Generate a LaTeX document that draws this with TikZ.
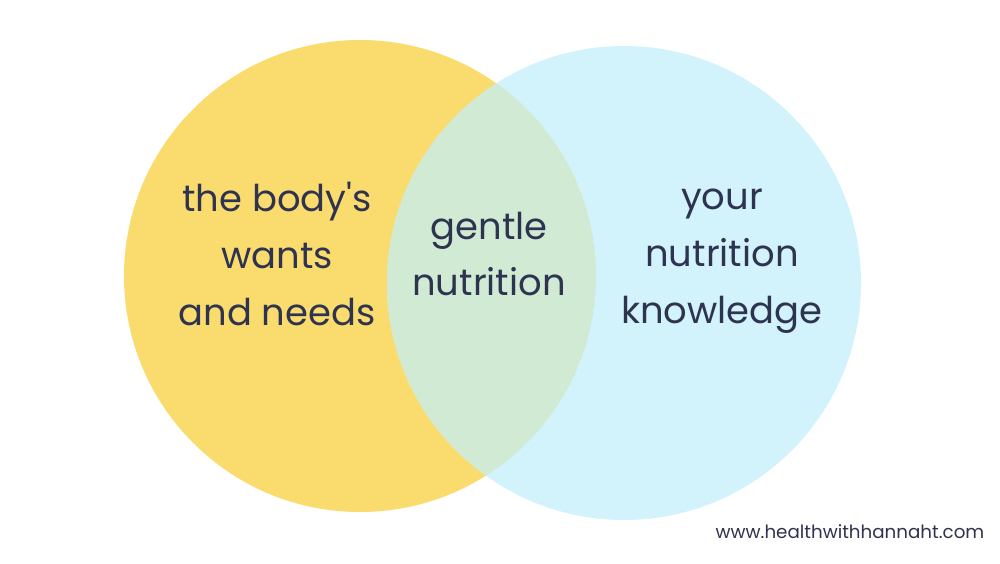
\documentclass[tikz,border=0pt]{standalone}
\usepackage{fontspec}
\setmainfont{Poppins}
\definecolor{yel}{HTML}{FADC6E}
\definecolor{blu}{HTML}{D2F2FC}
\definecolor{grn}{HTML}{D1EAD4}
\definecolor{ink}{HTML}{2E3350}
\begin{document}
\begin{tikzpicture}[x=0.01cm,y=-0.01cm,
  lbl/.style={text=ink,font=\fontsize{10.5pt}{16.2pt}\selectfont,align=center}]
\useasboundingbox (0,0) rectangle (1000,563);
\fill[white] (0,0) rectangle (1000,563);
\fill[yel] (360,276) circle (236);
\fill[blu] (624,283) circle (237);
\begin{scope}
\clip (360,276) circle (236);
\fill[grn] (624,283) circle (237);
\end{scope}
\node[lbl] (l) at (277,254) {the body\textquotesingle s\\wants\\and needs};
\node[lbl] (m) at (489,254) {gentle\\nutrition};
\node[lbl] (r) at (722,261) {your\\nutrition\\knowledge};
\node[text=ink,font=\fontsize{5.2pt}{6pt}\selectfont] (u) at (850,532) {www.healthwithhannaht.com};
\end{tikzpicture}
\end{document}
